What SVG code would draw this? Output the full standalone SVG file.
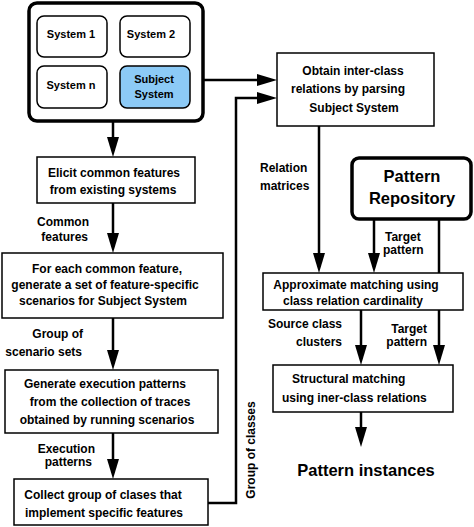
<svg xmlns="http://www.w3.org/2000/svg" width="474" height="527" viewBox="0 0 474 527">
<style>
.t{font-family:"Liberation Sans",Arial,sans-serif;font-size:12px;font-weight:bold;fill:#000}
.s{font-size:11px}
.big{font-size:16.5px}
.m{text-anchor:middle}
.e{text-anchor:end}
.box{fill:#fff;stroke:#000;stroke-width:1.5}
.thick{fill:#fff;stroke:#000;stroke-width:3.5}
.sys{fill:#fff;stroke:#000;stroke-width:1.5}
.subj{fill:#8ccaf6;stroke:#000;stroke-width:1.5}
.c{fill:none;stroke:#000;stroke-width:2.5}
.a{marker-end:url(#ah)}
</style>
<defs>
<marker id="ah" viewBox="0 0 20 12" refX="14" refY="6" markerWidth="20" markerHeight="12" markerUnits="userSpaceOnUse" orient="auto">
<path d="M0,0 L20,6 L0,12 z" fill="#000"/>
</marker>
</defs>
<rect width="474" height="527" fill="#fff"/>
<g id="connectors">
<path class="c a" d="M113,122 V151"/>
<path class="c a" d="M190,80 H271"/>
<path class="c a" d="M208,503 H236 V98 H271"/>
<path class="c a" d="M113,203 V247"/>
<path class="c a" d="M113,318 V364"/>
<path class="c a" d="M113,433 V473"/>
<path class="c a" d="M319,126 V267"/>
<path class="c a" d="M374,219 V267"/>
<path class="c" d="M439,219 V273"/>
<path class="c a" d="M361,310 V359"/>
<path class="c a" d="M439,310 V359"/>
<path class="c a" d="M361,412 V441"/>
<text class="t" x="260" y="172">Relation</text>
<text class="t" x="260" y="190">matrices</text>
<text class="t" x="385" y="241">Target</text>
<text class="t" x="383" y="254">pattern</text>
<text class="t e" x="342" y="328">Source class</text>
<text class="t e" x="342" y="346">clusters</text>
<text class="t e" x="427" y="333">Target</text>
<text class="t e" x="427" y="346">pattern</text>
<text class="t e" x="89" y="226">Common</text>
<text class="t e" x="88" y="241">features</text>
<text class="t e" x="83" y="338">Group of</text>
<text class="t e" x="82" y="356">scenario sets</text>
<text class="t e" x="95" y="453">Execution</text>
<text class="t e" x="92" y="466">patterns</text>
<text class="t m" transform="translate(255,450) rotate(-90)">Group of classes</text>
</g>
<g id="systems">
<rect class="thick" x="29" y="3" width="174" height="118" rx="8"/>
<g id="system1"><rect class="sys" x="37" y="16" width="70" height="41" rx="7"/><text class="t s m" x="71" y="38">System 1</text></g>
<g id="system2"><rect class="sys" x="120" y="16" width="70" height="41" rx="7"/><text class="t s m" x="151" y="38">System 2</text></g>
<g id="systemn"><rect class="sys" x="37" y="66" width="70" height="42" rx="7"/><text class="t s m" x="71" y="89">System n</text></g>
<g id="subject"><rect class="subj" x="120" y="66" width="70" height="42" rx="7"/><text class="t s m" x="154" y="83">Subject</text><text class="t s m" x="154" y="98">System</text></g>
</g>
<g id="elicit"><rect class="box" x="37" y="157" width="158" height="46"/>
<text class="t m" x="114" y="177">Elicit common features</text>
<text class="t m" x="113" y="194">from existing systems</text></g>
<g id="foreach"><rect class="box" x="2" y="253" width="221" height="65"/>
<text class="t m" x="107" y="273">For each common feature,</text>
<text class="t m" x="105" y="289">generate a set of feature-specific</text>
<text class="t m" x="103" y="305">scenarios for Subject System</text></g>
<g id="generate"><rect class="box" x="5" y="370" width="213" height="63"/>
<text class="t m" x="105" y="388">Generate execution patterns</text>
<text class="t m" x="110" y="406">from the collection of traces</text>
<text class="t m" x="107" y="424">obtained by running scenarios</text></g>
<g id="collect"><rect class="box" x="14" y="479" width="194" height="46"/>
<text class="t m" x="103" y="499">Collect group of clases that</text>
<text class="t m" x="104" y="517">implement specific features</text></g>
<g id="obtain"><rect class="box" x="277" y="53" width="157" height="73"/>
<text class="t m" x="353" y="75">Obtain inter-class</text>
<text class="t m" x="348" y="93">relations by parsing</text>
<text class="t m" x="354" y="112">Subject System</text></g>
<g id="repository"><rect class="thick" x="352" y="158" width="119" height="61" rx="7"/>
<text class="t big m" x="412" y="182">Pattern</text>
<text class="t big m" x="412" y="204">Repository</text></g>
<g id="approx"><rect class="box" x="263" y="273" width="200" height="37"/>
<text class="t m" x="356" y="289">Approximate matching using</text>
<text class="t m" x="353" y="305">class relation cardinality</text></g>
<g id="structural"><rect class="box" x="273" y="365" width="180" height="47"/>
<text class="t" x="292" y="383">Structural matching</text>
<text class="t" x="282" y="402">using iner-class relations</text></g>
<g id="instances"><text class="t big m" x="366" y="476">Pattern instances</text></g>
</svg>
